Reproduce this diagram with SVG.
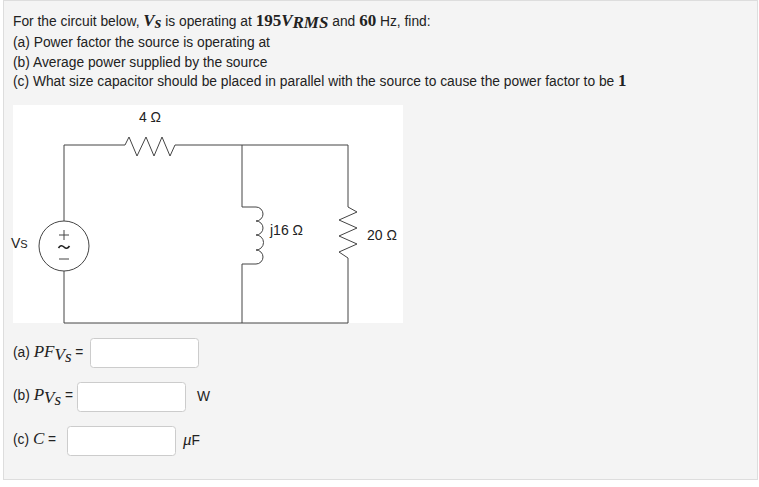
<svg xmlns="http://www.w3.org/2000/svg" width="759" height="487" viewBox="0 0 759 487">
<style>
.t{font-family:"Liberation Sans",Arial,sans-serif;font-size:13.8px;fill:#222}
.m{font-family:"Liberation Serif","Times New Roman",serif;font-style:italic;font-size:17px}
.mb{font-family:"Liberation Serif","Times New Roman",serif;font-size:17px;font-weight:bold}
.w{fill:none;stroke:#444;stroke-width:1}
.box{fill:#fff;stroke:#ccc;stroke-width:1}
.c{font-family:"Liberation Sans",Arial,sans-serif;font-size:14px;fill:#222}
</style>
<rect x="3.5" y="0.5" width="754" height="479" fill="#f4f4f4" stroke="#ddd"/>
<g id="question">
<text class="t" x="13" y="26">For the circuit below, <tspan class="m" font-weight="bold">V</tspan><tspan class="m" font-weight="bold" font-size="11" dy="2">s</tspan><tspan dy="-2"> is operating at </tspan><tspan class="mb">195</tspan><tspan class="m" font-weight="bold">V</tspan><tspan class="m" font-weight="bold" font-size="13" dy="2">RMS</tspan><tspan dy="-2"> and </tspan><tspan class="mb">60</tspan> Hz, find:</text>
<text class="t" x="13" y="47">(a) Power factor the source is operating at</text>
<text class="t" x="13" y="67">(b) Average power supplied by the source</text>
<text class="t" x="13" y="86">(c) What size capacitor should be placed in parallel with the source to cause the power factor to be <tspan class="mb">1</tspan></text>
</g>
<rect x="13" y="105" width="390" height="218" fill="#fff"/>
<g id="connectors">
<path class="w" d="M64,221 V145 H125 M175,145 H348 V207 M348,258 V323 H64 V271 M242,145 V207 H256 M256,264 H242 V323"/>
</g>
<g id="R4">
<path class="w" d="M125,145 L129,137 L137,156 L146,137 L154,156 L162,137 L170,156 L175,145"/>
<text class="c" x="150" y="122" text-anchor="middle">4 Ω</text>
</g>
<g id="L16">
<path class="w" d="M256,207 a7,7 0 0 1 0,14 a7,7 0 0 1 0,14 a7,7 0 0 1 0,15 a7,7 0 0 1 0,14"/>
<text class="c" x="270" y="235">j16 Ω</text>
</g>
<g id="R20">
<path class="w" d="M348,207 L357,212 L339,220 L357,228 L339,236 L357,244 L339,252 L348,258"/>
<text class="c" x="367" y="240">20 Ω</text>
</g>
<g id="Vs">
<circle class="w" cx="64" cy="246" r="25"/>
<path class="w" d="M59,235 H69 M64,230 V240 M59,259 H69"/>
<path d="M58.5,248 q2.5,-4 5.5,-1 t5.5,-1" fill="none" stroke="#222" stroke-width="1.6"/>
<text class="c" x="11" y="248">V<tspan font-size="11">S</tspan></text>
</g>
<g id="answers">
<text class="t" x="13" y="357">(a) <tspan class="m">PF</tspan><tspan class="m" font-size="10" dy="3">V</tspan><tspan class="m" font-size="7" dy="2">s</tspan><tspan dy="-5"> =</tspan></text>
<rect class="box" x="90.5" y="338.5" width="108" height="29" rx="3"/>
<text class="t" x="13" y="400">(b) <tspan class="m">P</tspan><tspan class="m" font-size="10" dy="3">V</tspan><tspan class="m" font-size="7" dy="2">s</tspan><tspan dy="-5"> =</tspan></text>
<rect class="box" x="77.5" y="382.5" width="108" height="29" rx="3"/>
<text class="t" x="197" y="401">W</text>
<text class="t" x="13" y="444">(c) <tspan class="m">C</tspan> =</text>
<rect class="box" x="67.5" y="426.5" width="108" height="29" rx="3"/>
<text class="t" x="183" y="445"><tspan class="m" font-size="14">μ</tspan>F</text>
</g>
</svg>
